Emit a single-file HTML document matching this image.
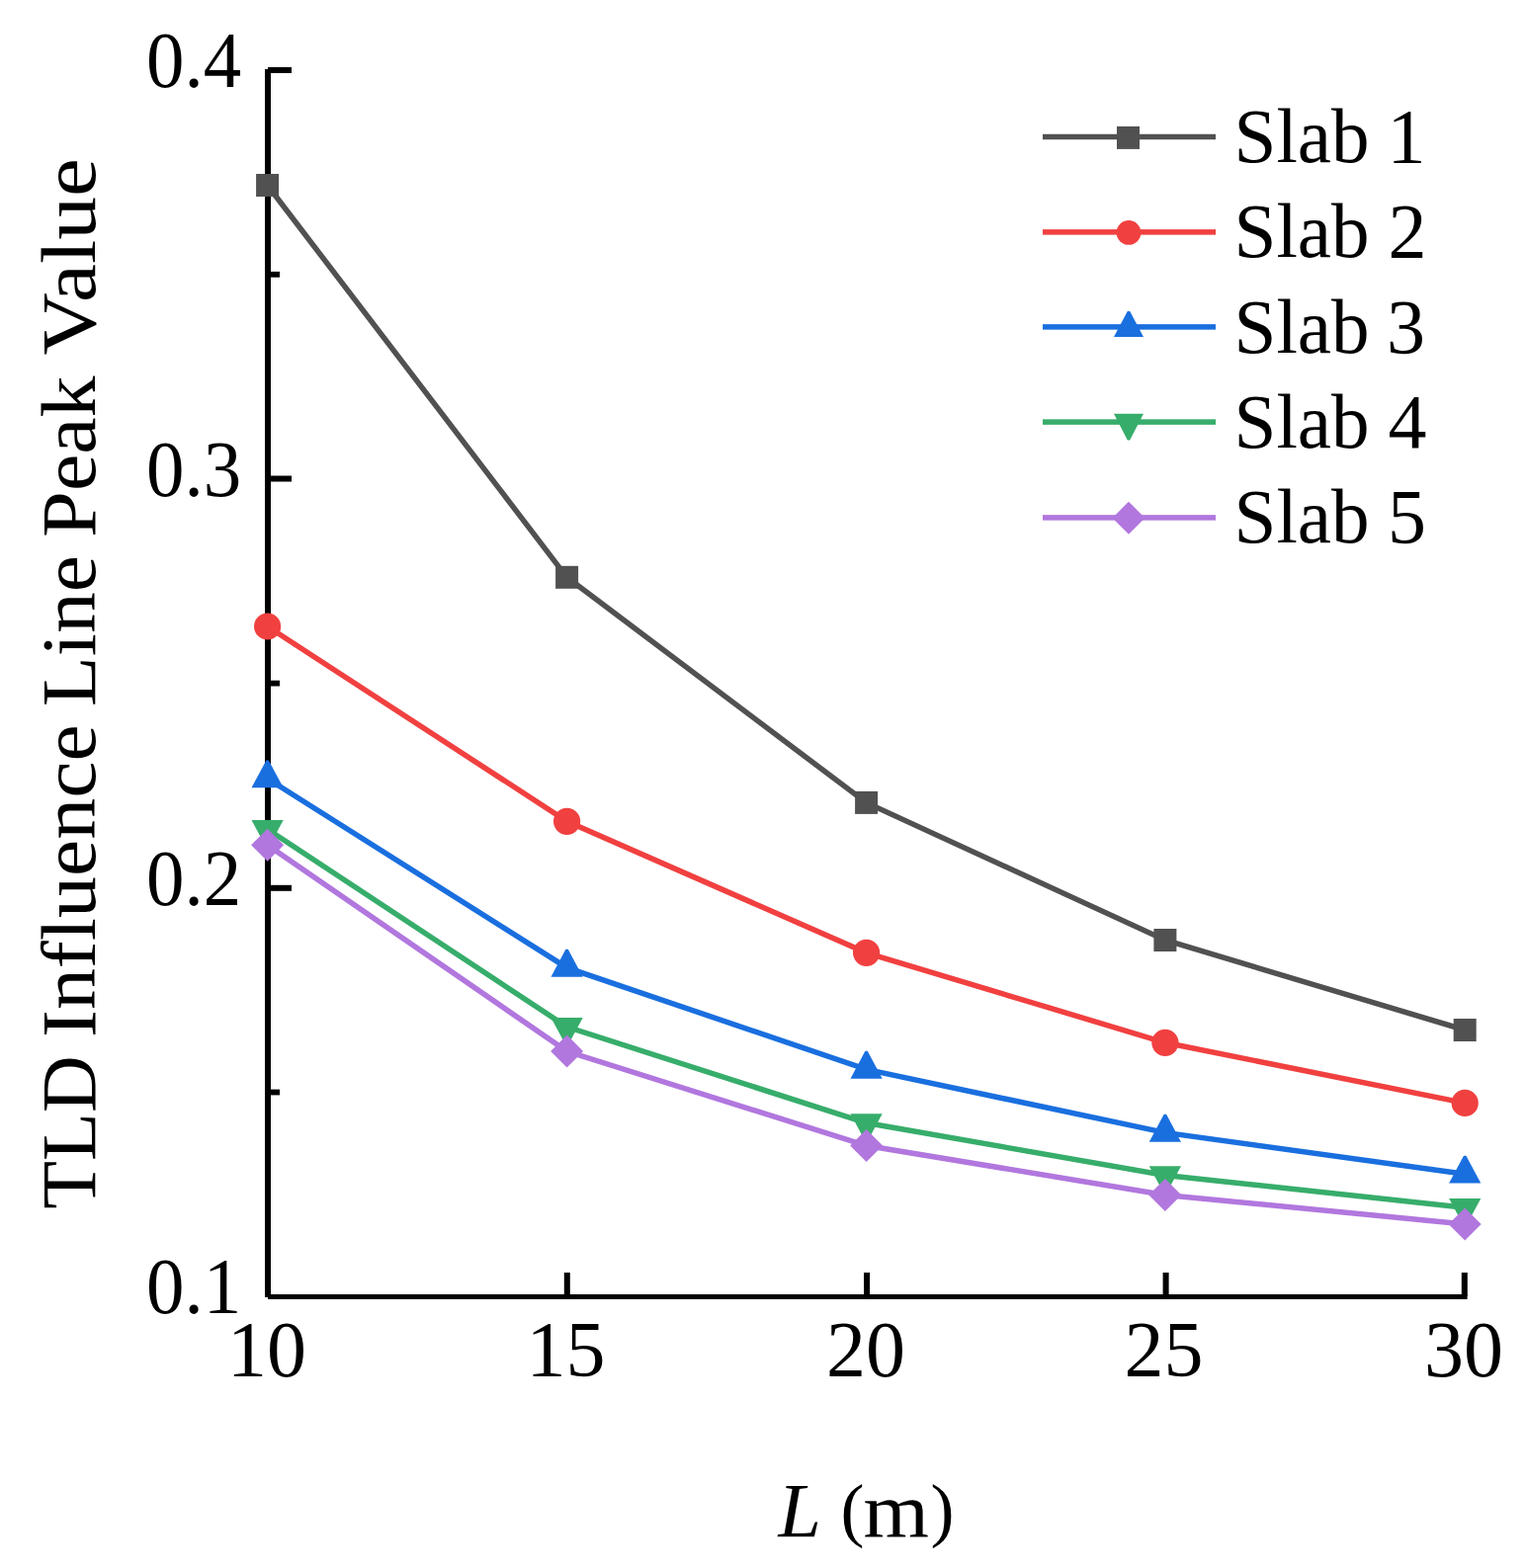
<!DOCTYPE html>
<html><head><meta charset="utf-8"><title>TLD Influence Line Peak Value</title>
<style>
html,body{margin:0;padding:0;background:#fff;}
body{width:1543px;height:1587px;overflow:hidden;}
svg{display:block;}
text{font-family:"Liberation Serif","DejaVu Serif",serif;fill:#000;}
</style></head><body>
<svg width="1543" height="1587" viewBox="0 0 1543 1587">
<rect x="0" y="0" width="1543" height="1587" fill="#fff"/>

<g fill="#000">
<rect x="268" y="70" width="6" height="1243"/>
<rect x="271" y="1310" width="1213.6" height="5"/>
<rect x="271" y="68.0" width="24" height="6"/>
<rect x="271" y="481.5" width="24" height="6"/>
<rect x="271" y="895.8" width="24" height="6"/>
<rect x="271" y="274.9" width="12" height="5.8"/>
<rect x="271" y="688.7" width="12" height="5.8"/>
<rect x="271" y="1102.6" width="12" height="5.8"/>
<rect x="570.8" y="1288" width="6" height="24"/>
<rect x="874.1" y="1288" width="6" height="24"/>
<rect x="1176.6" y="1288" width="6" height="24"/>
<rect x="1478.8" y="1288" width="6" height="24"/>
</g>
<polyline points="270.60,187.50 573.60,584.30 876.60,812.40 1178.90,951.50 1482.20,1042.50" fill="none" stroke="#515151" stroke-width="5.5" stroke-linejoin="miter"/>
<g fill="#515151"><rect x="259.10" y="176.00" width="23" height="23"/><rect x="562.10" y="572.80" width="23" height="23"/><rect x="865.10" y="800.90" width="23" height="23"/><rect x="1167.40" y="940.00" width="23" height="23"/><rect x="1470.70" y="1031.00" width="23" height="23"/></g>
<polyline points="270.60,634.00 573.60,831.30 876.60,964.30 1178.90,1055.30 1482.20,1116.40" fill="none" stroke="#F14040" stroke-width="5.5" stroke-linejoin="miter"/>
<g fill="#F14040"><circle cx="270.60" cy="634.00" r="13.6"/><circle cx="573.60" cy="831.30" r="13.6"/><circle cx="876.60" cy="964.30" r="13.6"/><circle cx="1178.90" cy="1055.30" r="13.6"/><circle cx="1482.20" cy="1116.40" r="13.6"/></g>
<polyline points="270.60,788.00 573.60,979.40 876.60,1082.40 1178.90,1146.40 1482.20,1188.30" fill="none" stroke="#1A6FDF" stroke-width="5.5" stroke-linejoin="miter"/>
<g fill="#1A6FDF"><polygon points="269.40,769.47 271.80,769.47 286.70,797.27 254.50,797.27"/><polygon points="572.40,960.87 574.80,960.87 589.70,988.67 557.50,988.67"/><polygon points="875.40,1063.87 877.80,1063.87 892.70,1091.67 860.50,1091.67"/><polygon points="1177.70,1127.87 1180.10,1127.87 1195.00,1155.67 1162.80,1155.67"/><polygon points="1481.00,1169.77 1483.40,1169.77 1498.30,1197.57 1466.10,1197.57"/></g>
<polyline points="270.60,839.30 573.60,1039.30 876.60,1136.50 1178.90,1189.50 1482.20,1222.30" fill="none" stroke="#37AD6B" stroke-width="5.5" stroke-linejoin="miter"/>
<g fill="#37AD6B"><polygon points="254.50,830.03 286.70,830.03 271.80,857.83 269.40,857.83"/><polygon points="557.50,1030.03 589.70,1030.03 574.80,1057.83 572.40,1057.83"/><polygon points="860.50,1127.23 892.70,1127.23 877.80,1155.03 875.40,1155.03"/><polygon points="1162.80,1180.23 1195.00,1180.23 1180.10,1208.03 1177.70,1208.03"/><polygon points="1466.10,1213.03 1498.30,1213.03 1483.40,1240.83 1481.00,1240.83"/></g>
<polyline points="270.60,855.20 573.60,1064.00 876.60,1159.50 1178.90,1209.40 1482.20,1239.00" fill="none" stroke="#B177DE" stroke-width="5.5" stroke-linejoin="miter"/>
<g fill="#B177DE"><polygon points="270.60,838.70 287.10,855.20 270.60,871.70 254.10,855.20"/><polygon points="573.60,1047.50 590.10,1064.00 573.60,1080.50 557.10,1064.00"/><polygon points="876.60,1143.00 893.10,1159.50 876.60,1176.00 860.10,1159.50"/><polygon points="1178.90,1192.90 1195.40,1209.40 1178.90,1225.90 1162.40,1209.40"/><polygon points="1482.20,1222.50 1498.70,1239.00 1482.20,1255.50 1465.70,1239.00"/></g>
<rect x="1055" y="135.75" width="175" height="5.5" fill="#515151"/>
<g fill="#515151"><rect x="1130.00" y="127.90" width="23" height="23"/></g>
<text y="163.7" font-size="78"><tspan x="1248.6" textLength="137" lengthAdjust="spacingAndGlyphs">Slab</tspan> <tspan x="1423" text-anchor="middle">1</tspan></text>
<rect x="1055" y="232.15" width="175" height="5.5" fill="#F14040"/>
<g fill="#F14040"><circle cx="1142.00" cy="235.40" r="12.4"/></g>
<text y="260.4" font-size="78"><tspan x="1248.6" textLength="137" lengthAdjust="spacingAndGlyphs">Slab</tspan> <tspan x="1424" text-anchor="middle">2</tspan></text>
<rect x="1055" y="328.15" width="175" height="5.5" fill="#1A6FDF"/>
<g fill="#1A6FDF"><polygon points="1140.80,314.97 1143.20,314.97 1157.00,340.97 1127.00,340.97"/></g>
<text y="356.8" font-size="78"><tspan x="1248.6" textLength="137" lengthAdjust="spacingAndGlyphs">Slab</tspan> <tspan x="1422.5" text-anchor="middle">3</tspan></text>
<rect x="1055" y="424.35" width="175" height="5.5" fill="#37AD6B"/>
<g fill="#37AD6B"><polygon points="1127.00,418.77 1157.00,418.77 1143.20,445.57 1140.80,445.57"/></g>
<text y="453.0" font-size="78"><tspan x="1248.6" textLength="137" lengthAdjust="spacingAndGlyphs">Slab</tspan> <tspan x="1424" text-anchor="middle">4</tspan></text>
<rect x="1055" y="521.15" width="175" height="5.5" fill="#B177DE"/>
<g fill="#B177DE"><polygon points="1142.00,507.70 1158.50,524.20 1142.00,540.70 1125.50,524.20"/></g>
<text y="548.8" font-size="78"><tspan x="1248.6" textLength="137" lengthAdjust="spacingAndGlyphs">Slab</tspan> <tspan x="1423.5" text-anchor="middle">5</tspan></text>
<text x="244.2" y="87.6" font-size="80" text-anchor="end" textLength="96.2" lengthAdjust="spacingAndGlyphs">0.4</text>
<text x="244.2" y="501.5" font-size="80" text-anchor="end" textLength="96.2" lengthAdjust="spacingAndGlyphs">0.3</text>
<text x="244.2" y="915.9" font-size="80" text-anchor="end" textLength="96.2" lengthAdjust="spacingAndGlyphs">0.2</text>
<text x="244.2" y="1329.3" font-size="80" text-anchor="end" textLength="96.2" lengthAdjust="spacingAndGlyphs">0.1</text>
<text x="270" y="1393" font-size="80" text-anchor="middle">10</text>
<text x="572.5" y="1393" font-size="80" text-anchor="middle">15</text>
<text x="876.1" y="1393" font-size="80" text-anchor="middle">20</text>
<text x="1177.5" y="1393" font-size="80" text-anchor="middle">25</text>
<text x="1480.9" y="1393" font-size="80" text-anchor="middle">30</text>
<text y="1555" font-size="78"><tspan x="787.5" font-style="italic">L</tspan> <tspan x="850.5" y="1551.5" font-size="72">(</tspan><tspan x="873.5" y="1555" textLength="66.5" lengthAdjust="spacingAndGlyphs">m</tspan><tspan x="941.5" y="1551.5" font-size="72">)</tspan></text>
<text transform="translate(95.6,1230.0) rotate(-90)" y="0" font-size="78"><tspan x="6.17" textLength="155.65" lengthAdjust="spacingAndGlyphs">TLD</tspan> <tspan x="179.97" textLength="316.70" lengthAdjust="spacingAndGlyphs">Influence</tspan> <tspan x="514.86" textLength="152.78" lengthAdjust="spacingAndGlyphs">Line</tspan> <tspan x="686.14" textLength="163.53" lengthAdjust="spacingAndGlyphs">Peak</tspan> <tspan x="870.58" textLength="199.35" lengthAdjust="spacingAndGlyphs">Value</tspan></text>
</svg></body></html>
